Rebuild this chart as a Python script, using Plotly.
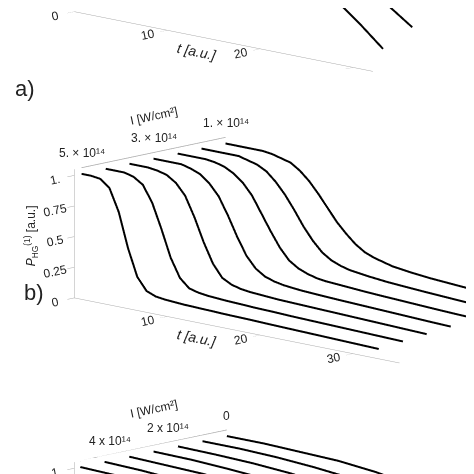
import plotly.graph_objects as go

# panel b) : P_HG(t) for several intensities
t_b = [0, 1, 2, 3, 4, 5, 6, 7, 8, 9, 10, 11, 12, 13, 14, 15, 16, 18, 20, 22, 24, 26, 28, 30, 32]
I_b = [5e14, 4.33e14, 3.67e14, 3e14, 2.33e14, 1.67e14, 1e14]
P_b = [
    [1, 1, 0.99, 0.93, 0.75, 0.47, 0.25, 0.15, 0.12, 0.11, 0.105, 0.10, 0.098, 0.095, 0.093, 0.09, 0.088, 0.085, 0.08, 0.076, 0.072, 0.068, 0.064, 0.06, 0.056],
    [1, 1, 1, 0.98, 0.93, 0.8, 0.6, 0.38, 0.23, 0.16, 0.14, 0.13, 0.125, 0.12, 0.117, 0.114, 0.11, 0.106, 0.10, 0.096, 0.092, 0.088, 0.084, 0.08, 0.076],
    [1, 1, 1, 0.99, 0.97, 0.92, 0.83, 0.67, 0.48, 0.32, 0.22, 0.18, 0.16, 0.15, 0.145, 0.14, 0.135, 0.13, 0.125, 0.12, 0.115, 0.11, 0.105, 0.10, 0.095],
    [1, 1, 1, 1, 0.98, 0.95, 0.89, 0.8, 0.66, 0.5, 0.36, 0.27, 0.22, 0.195, 0.18, 0.172, 0.165, 0.157, 0.15, 0.144, 0.138, 0.132, 0.126, 0.12, 0.115],
    [1, 1, 1, 1, 0.99, 0.97, 0.93, 0.87, 0.78, 0.65, 0.52, 0.4, 0.31, 0.26, 0.23, 0.21, 0.2, 0.19, 0.18, 0.172, 0.165, 0.158, 0.151, 0.145, 0.14],
    [1, 1, 1, 1, 1, 0.98, 0.96, 0.92, 0.85, 0.76, 0.65, 0.53, 0.43, 0.35, 0.3, 0.27, 0.25, 0.23, 0.215, 0.205, 0.196, 0.188, 0.18, 0.173, 0.166],
    [1, 1, 1, 1, 1, 0.99, 0.97, 0.95, 0.9, 0.83, 0.74, 0.64, 0.54, 0.46, 0.39, 0.34, 0.31, 0.27, 0.25, 0.235, 0.225, 0.215, 0.205, 0.197, 0.19],
]
I_b_ticks = [5e14, 3e14, 1e14]
I_b_text = ["5. × 10¹⁴", "3. × 10¹⁴", "1. × 10¹⁴"]

# panel a) : only the lower part is visible
t_a = [0, 4, 8, 12, 16, 20, 24, 27, 30, 33]
I_a = [5e14, 4.33e14, 3.67e14]
P_a = [
    [1, 0.99, 0.97, 0.93, 0.86, 0.76, 0.64, 0.52, 0.34, 0.14],
    [1, 0.99, 0.98, 0.95, 0.9, 0.82, 0.72, 0.62, 0.48, 0.32],
    [1, 1, 0.99, 0.97, 0.93, 0.87, 0.79, 0.71, 0.6, 0.47],
]

# panel c) : only the upper part is visible
t_c = [0, 4, 8, 12, 16, 20, 24, 28, 32]
I_c = [5e14, 4.17e14, 3.33e14, 2.5e14, 1.67e14, 0.83e14, 0]
P_c = [
    [1, 0.99, 0.97, 0.93, 0.86, 0.74, 0.58, 0.4, 0.22],
    [1, 0.99, 0.97, 0.94, 0.88, 0.77, 0.62, 0.45, 0.28],
    [1, 0.99, 0.98, 0.95, 0.9, 0.8, 0.66, 0.5, 0.33],
    [1, 0.995, 0.98, 0.96, 0.91, 0.83, 0.7, 0.55, 0.38],
    [1, 0.995, 0.985, 0.965, 0.93, 0.86, 0.74, 0.6, 0.43],
    [1, 1, 0.99, 0.97, 0.94, 0.88, 0.78, 0.65, 0.48],
    [1, 1, 0.99, 0.98, 0.95, 0.9, 0.81, 0.69, 0.53],
]
I_c_ticks = [4e14, 2e14, 0]
I_c_text = ["4 x 10¹⁴", "2 x 10¹⁴", "0"]

fig = go.Figure()
for scene, tt, II, PP in [("scene", t_a, I_a, P_a), ("scene2", t_b, I_b, P_b), ("scene3", t_c, I_c, P_c)]:
    for I, P in zip(II, PP):
        fig.add_trace(go.Scatter3d(x=tt, y=[I] * len(tt), z=P, mode="lines",
                                   line=dict(color="black", width=4), scene=scene, showlegend=False))

# I axis drawn along the top back edge (t=0, P=1)
for scene, II in [("scene2", I_b), ("scene3", I_c)]:
    fig.add_trace(go.Scatter3d(x=[0, 0], y=[II[0], II[-1]], z=[1.05, 1.05], mode="lines",
                               line=dict(color="#aaa", width=1.5), scene=scene, showlegend=False,
                               hoverinfo="skip"))

font = dict(family="Liberation Sans, Arial", size=12, color="#222")

def ax(**kw):
    d = dict(showbackground=False, showgrid=False, zeroline=False, showline=True,
             linecolor="#aaa", linewidth=1, ticks="outside", tickcolor="#aaa", ticklen=3,
             tickfont=font, showspikes=False)
    d.update(kw)
    return d

def i_labels(ticks, text, title, tpos):
    ann = [dict(x=0, y=v, z=1.05, text=s, showarrow=False, yshift=14, font=font) for v, s in zip(ticks, text)]
    ann.append(dict(x=0, y=tpos, z=1.05, text=title, showarrow=False, yshift=36, font=font, textangle=-12))
    return ann

aspect = dict(x=2.9, y=1.45, z=0.84)
view = (1.13, -1.16, 0.34)

def cam(cz):
    c = (-0.41, -0.23, cz)
    return dict(eye=dict(x=c[0] + view[0], y=c[1] + view[1], z=c[2] + view[2]), up=dict(x=0, y=0, z=1),
                center=dict(x=c[0], y=c[1], z=c[2]), projection=dict(type="orthographic"))

hidden = dict(showticklabels=False, ticks="", showline=False, title=dict(text=""))
clear = dict(bgcolor="rgba(0,0,0,0)", aspectmode="manual", aspectratio=aspect)

fig.update_layout(
    width=474, height=474, margin=dict(l=0, r=0, t=0, b=0),
    paper_bgcolor="white", font=font,
    scene=dict(clear, domain=dict(x=[0, 1], y=[0.34, 1]), camera=cam(-1.34),
               xaxis=ax(range=[0, 35], tickvals=[0, 10, 20, 30], title=dict(text="<i>t [a.u.]</i>")),
               yaxis=ax(range=[5.2e14, 0.8e14], **hidden),
               zaxis=ax(range=[0, 1.05], **hidden)),
    scene2=dict(clear, domain=dict(x=[0, 1], y=[0.17, 0.83]), camera=cam(0.0),
                xaxis=ax(range=[0, 35], tickvals=[0, 10, 20, 30], title=dict(text="<i>t [a.u.]</i>")),
                yaxis=ax(range=[5.2e14, 0.8e14], **hidden),
                zaxis=ax(range=[0, 1.05], tickvals=[0, 0.25, 0.5, 0.75, 1],
                         ticktext=["0", "0.25", "0.5", "0.75", "1."], title=dict(text="")),
                annotations=i_labels(I_b_ticks, I_b_text, "I [W/cm²]", 3e14)),
    scene3=dict(clear, domain=dict(x=[0, 1], y=[0, 0.66]), camera=cam(1.39),
                xaxis=ax(range=[0, 35], **hidden),
                yaxis=ax(range=[5.2e14, -0.2e14], **hidden),
                zaxis=ax(range=[0, 1.05], tickvals=[1], ticktext=["1"], title=dict(text="")),
                annotations=i_labels(I_c_ticks, I_c_text, "I [W/cm²]", 2.5e14)),
    annotations=[
        dict(text="a)", x=0.01, y=0.86, xref="paper", yref="paper", showarrow=False, font=dict(size=22, color="#222")),
        dict(text="b)", x=0.03, y=0.4, xref="paper", yref="paper", showarrow=False, font=dict(size=22, color="#222")),
        dict(text="<i>P</i><sub>HG</sub><sup>(1)</sup> [a.u.]", x=0.025, y=0.52, xref="paper", yref="paper",
             showarrow=False, textangle=-90, font=font),
    ],
)
fig.write_html("out.html")
